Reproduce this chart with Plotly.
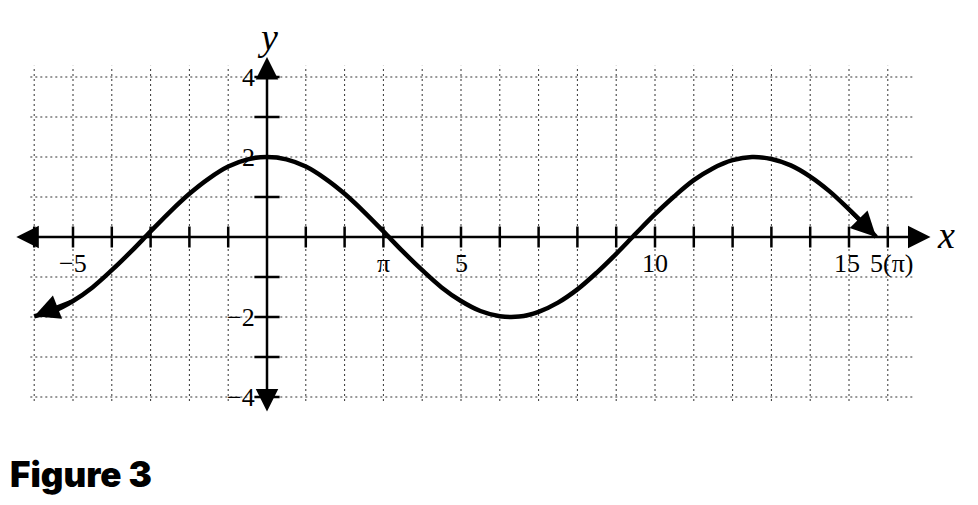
import plotly.graph_objects as go

# curve (x, y)
curve_x = [-6, -5.5, -5, -4.5, -4, -3.5, -3, -2.5, -2, -1.5, -1, -0.5, 0,
           0.5, 1, 1.5, 2, 2.5, 3, 3.5, 4, 4.5, 5, 5.5, 6, 6.5, 7, 7.5, 8,
           8.5, 9, 9.5, 10, 10.5, 11, 11.5, 12, 12.5, 13, 13.5, 14, 14.5,
           15, 15.5, 15.7]
curve_y = [-1.98, -1.85, -1.60, -1.26, -0.83, -0.36, 0.14, 0.63, 1.08, 1.46,
           1.76, 1.94, 2.00, 1.94, 1.76, 1.46, 1.08, 0.63, 0.14, -0.36, -0.83,
           -1.26, -1.60, -1.85, -1.98, -1.99, -1.87, -1.64, -1.31, -0.89,
           -0.42, 0.08, 0.57, 1.02, 1.42, 1.72, 1.92, 2.00, 1.95, 1.79, 1.51,
           1.14, 0.69, 0.21, 0.0]

x_ticks = list(range(-6, 17))
y_ticks = list(range(-4, 5))
x_label_pos = [-5, 3, 5, 10, 14.95, 16.1]
x_label_text = ["\u22125", "\u03c0", "5", "10", "15", "5(\u03c0)"]
y_label_pos = [4, 2, -2, -4]
y_label_text = ["4", "2", "\u22122", "\u22124"]

# extents of grid and axes
grid_x = (-6.1, 16.7)
grid_y = (-4.1, 4.28)
axis_x = (-6.5, 17.1)
axis_y = (-4.4, 4.5)

# page has an 8px body margin, so the origin sits at (259, 229) in the figure
W, H = 978, 505
ox, oy = 259, 229
px_x, px_y = 38.8, 40

fig = go.Figure()

# dotted grid
gx, gy = [], []
for t in x_ticks:
    if t == 0:
        continue
    gx += [t, t, None]
    gy += [grid_y[0], grid_y[1], None]
for t in y_ticks:
    if t == 0:
        continue
    gx += [grid_x[0], grid_x[1], None]
    gy += [t, t, None]
fig.add_trace(go.Scatter(x=gx, y=gy, mode="lines", hoverinfo="skip",
                         line=dict(color="#333", width=1, dash="2px,3px")))

# tick marks on the axes
fig.add_trace(go.Scatter(x=[t for t in x_ticks if t != 0],
                         y=[0] * (len(x_ticks) - 1), mode="markers",
                         marker=dict(symbol="line-ns", size=15,
                                     line=dict(color="black", width=2.5))))
fig.add_trace(go.Scatter(x=[0] * (len(y_ticks) - 1),
                         y=[t for t in y_ticks if t != 0], mode="markers",
                         marker=dict(symbol="line-ew", size=18,
                                     line=dict(color="black", width=2.5))))

# the curve
fig.add_trace(go.Scatter(x=curve_x, y=curve_y, mode="lines",
                         line=dict(color="black", width=4.5, shape="spline")))

# axes with arrows
fig.add_annotation(x=axis_x[1], y=0, ax=axis_x[0], ay=0, xref="x", yref="y",
                   axref="x", ayref="y", text="", showarrow=True,
                   arrowhead=2, arrowside="end+start", arrowsize=1.8,
                   arrowwidth=2.5, arrowcolor="black")
fig.add_annotation(x=0, y=axis_y[1], ax=0, ay=axis_y[0], xref="x", yref="y",
                   axref="x", ayref="y", text="", showarrow=True,
                   arrowhead=2, arrowside="end+start", arrowsize=1.8,
                   arrowwidth=2.5, arrowcolor="black")

# arrow heads on curve ends
fig.add_annotation(x=curve_x[-1], y=curve_y[-1], ax=curve_x[-3],
                   ay=curve_y[-3], xref="x", yref="y", axref="x", ayref="y",
                   text="", showarrow=True, arrowhead=2, arrowsize=1.25,
                   arrowwidth=4, arrowcolor="black")
fig.add_annotation(x=curve_x[0], y=curve_y[0], ax=curve_x[2],
                   ay=curve_y[2], xref="x", yref="y", axref="x", ayref="y",
                   text="", showarrow=True, arrowhead=2, arrowsize=1.25,
                   arrowwidth=4, arrowcolor="black")

serif = "Liberation Serif"
for p, t in zip(x_label_pos, x_label_text):
    fig.add_annotation(x=p, y=-0.65, text=t, showarrow=False,
                       font=dict(family=serif, size=26, color="black"))
for p, t in zip(y_label_pos, y_label_text):
    fig.add_annotation(x=-0.25, y=p, text=t, showarrow=False, xanchor="right",
                       font=dict(family=serif, size=26, color="black"))

fig.add_annotation(x=17.5, y=0.05, text="<i>x</i>", showarrow=False,
                   font=dict(family=serif, size=38, color="black"))
fig.add_annotation(x=0, y=5.0, text="<i>y</i>", showarrow=False,
                   font=dict(family=serif, size=38, color="black"))

fig.add_annotation(x=0, y=1 - 466 / H, xref="paper", yref="paper",
                   xanchor="left", yanchor="middle", text="Figure 3",
                   showarrow=False,
                   font=dict(family="Inter", size=35, color="black",
                             weight=900))

fig.update_layout(
    width=W, height=H,
    margin=dict(l=0, r=0, t=0, b=0),
    plot_bgcolor="white", paper_bgcolor="white",
    showlegend=False,
    xaxis=dict(range=[-ox / px_x, (W - ox) / px_x], visible=False),
    yaxis=dict(range=[-(H - oy) / px_y, oy / px_y], visible=False),
)

fig.write_html("out.html")
